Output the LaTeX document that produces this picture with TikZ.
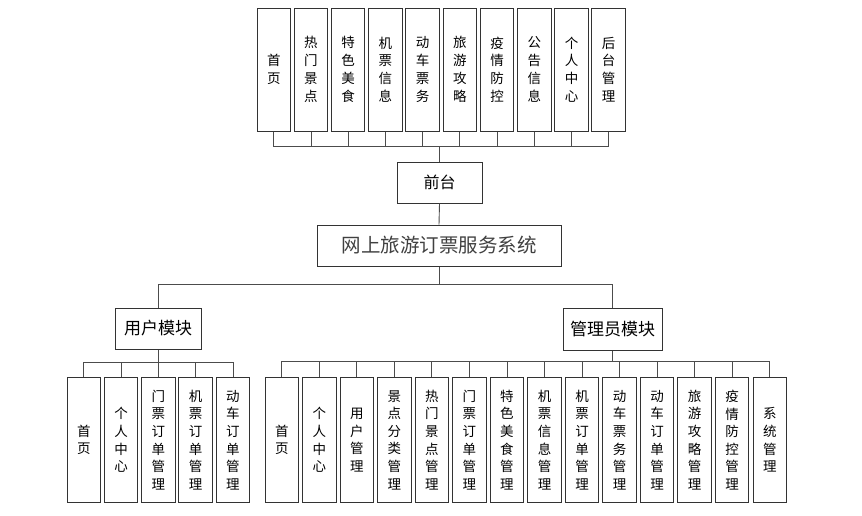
\documentclass[tikz,border=0pt]{standalone}
\usepackage{fontspec}
\setmainfont{Noto Sans CJK SC}
\usetikzlibrary{arrows}
\tikzstyle{vbox} = [draw=black!80, line width=1pt, rectangle, minimum width=33.5pt, align=center, inner sep=0pt, font=\fontsize{13.5}{17.8}\selectfont]
\tikzstyle{hbox} = [draw=black!80, line width=1pt, rectangle, minimum height=41pt, inner sep=0pt]
\tikzstyle{link} = [draw=black!70, line width=0.9pt]

\begin{document}
\begin{tikzpicture}[x=1pt,y=-1pt]
\useasboundingbox (0,0) rectangle (862,515);
% front end modules
\foreach \t [count=\i] in {{首\\页},{热\\门\\景\\点},{特\\色\\美\\食},{机\\票\\信\\息},{动\\车\\票\\务},{旅\\游\\攻\\略},{疫\\情\\防\\控},{公\\告\\信\\息},{个\\人\\中\\心},{后\\台\\管\\理}}
    \node[vbox, minimum height=123pt] (top\i) at (273.75+37.22*\i-37.22, 69.5) {\t};
\node[hbox, minimum width=85pt, font=\fontsize{16}{18}\selectfont] (qiantai) at (439.5,182.5) {前台};
\node[hbox, minimum width=244pt, text=black!75, font=\fontsize{19.5}{22}\selectfont] (system) at (439,245.5) {网上旅游订票服务系统};
\node[hbox, minimum width=86pt, font=\fontsize{17}{20}\selectfont] (user) at (158,328.5) {用户模块};
\node[hbox, minimum width=99pt, minimum height=42pt, font=\fontsize{17}{20}\selectfont] (admin) at (612.5,329) {管理员模块};
% user module
\foreach \t [count=\i] in {{首\\页},{个\\人\\中\\心},{门\\票\\订\\单\\管\\理},{机\\票\\订\\单\\管\\理},{动\\车\\订\\单\\管\\理}}
    \node[vbox, minimum height=125pt, font=\fontsize{13.5}{17.6}\selectfont] (u\i) at (83.75+37.3*\i-37.3, 440) {\t};
% admin module
\foreach \t [count=\i] in {{首\\页},{个\\人\\中\\心},{用\\户\\管\\理},{景\\点\\分\\类\\管\\理},{热\\门\\景\\点\\管\\理},{门\\票\\订\\单\\管\\理},{特\\色\\美\\食\\管\\理},{机\\票\\信\\息\\管\\理},{机\\票\\订\\单\\管\\理},{动\\车\\票\\务\\管\\理},{动\\车\\订\\单\\管\\理},{旅\\游\\攻\\略\\管\\理},{疫\\情\\防\\控\\管\\理},{系\\统\\管\\理}}
    \node[vbox, minimum height=125pt, font=\fontsize{13.5}{17.6}\selectfont] (a\i) at (281.75+37.54*\i-37.54, 440) {\t};
% connectors
\foreach \i in {1,...,10}
    \draw[link] (top\i.south) -- ++(0,15) -| (qiantai.north);
\draw[link] (qiantai.south) -- (system.north);
\draw[link] (system.south) -- ++(0,18) -| (user.north);
\draw[link] (system.south) -- ++(0,18) -| (admin.north);
\foreach \i in {1,...,5}
    \draw[link] (u\i.north) -- ++(0,-15) -| (user.south);
\foreach \i in {1,...,14}
    \draw[link] (a\i.north) -- ++(0,-15.5) -| (admin.south);
\end{tikzpicture}
\end{document}
